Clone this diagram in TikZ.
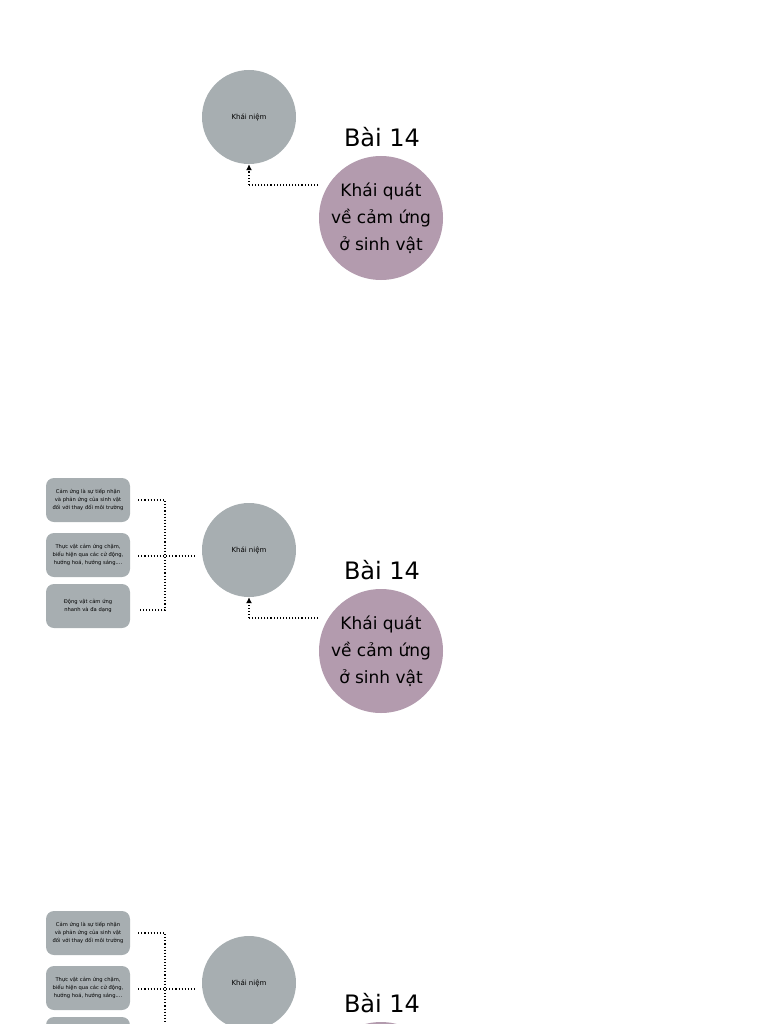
\documentclass[tikz,border=0pt]{standalone}
\usepackage{fontspec}
\setmainfont{DejaVu Sans}
\usetikzlibrary{calc,arrows.meta}
\definecolor{gr}{HTML}{A7AEB1}
\definecolor{pu}{HTML}{B39BAE}
\begin{document}
\begin{tikzpicture}[x=1pt,y=-1pt,
 gcirc/.style={circle,fill=gr,minimum size=94pt,inner sep=0pt,font=\fontsize{7}{8}\selectfont},
 pcirc/.style={circle,fill=pu,minimum size=124pt,inner sep=0pt,align=center,font=\fontsize{17}{27}\selectfont},
 ttl/.style={font=\fontsize{24}{28}\selectfont},
 gbox/.style={rounded corners=8pt,fill=gr,minimum width=84pt,minimum height=44pt,text width=78pt,align=center,inner sep=1pt,font=\fontsize{5.2}{8.2}\selectfont},
 dot/.style={dotted,line width=1.1pt},
 arr/.style={dotted,line width=1.1pt,-{Latex[length=6pt,width=6pt]}}]
\useasboundingbox (0,0) rectangle (768,1024);
\clip (0,0) rectangle (768,1024);
\foreach \o/\b in {0/0,433/1,866/1}{
 \begin{scope}[yshift=-\o pt]
 \node[gcirc] (k\o) at (249,117) {Khái niệm};
 \node[pcirc] (p\o) at (381,218) {Khái quát\\về cảm ứng\\ở sinh vật};
 \node[ttl] (t\o) at (382,137) {Bài 14};
 \coordinate (c\o) at (249,185);
 \draw[dot] (318,185) -- (c\o);
 \draw[arr] (c\o) -- (k\o.south);
 \ifnum\b=1
 \node[gbox] (a\o) at (88,67) {Cảm ứng là sự tiếp nhận và phản ứng của sinh vật đối với thay đổi môi trường};
 \node[gbox] (b\o) at (88,122) {Thực vật cảm ứng chậm, biểu hiện qua các cử động, hướng hoá, hướng sáng....};
 \node[gbox] (d\o) at (88,173) {Động vật cảm ứng nhanh và đa dạng};
 \draw[dot] ($(a\o.east)+(8,0)$) -- (165,67) -- (165,177) -- ($(d\o.east)+(8,4)$);
 \draw[dot] ($(b\o.east)+(8,1)$) -- (195,123);
 \fi
 \end{scope}}
\end{tikzpicture}
\end{document}
